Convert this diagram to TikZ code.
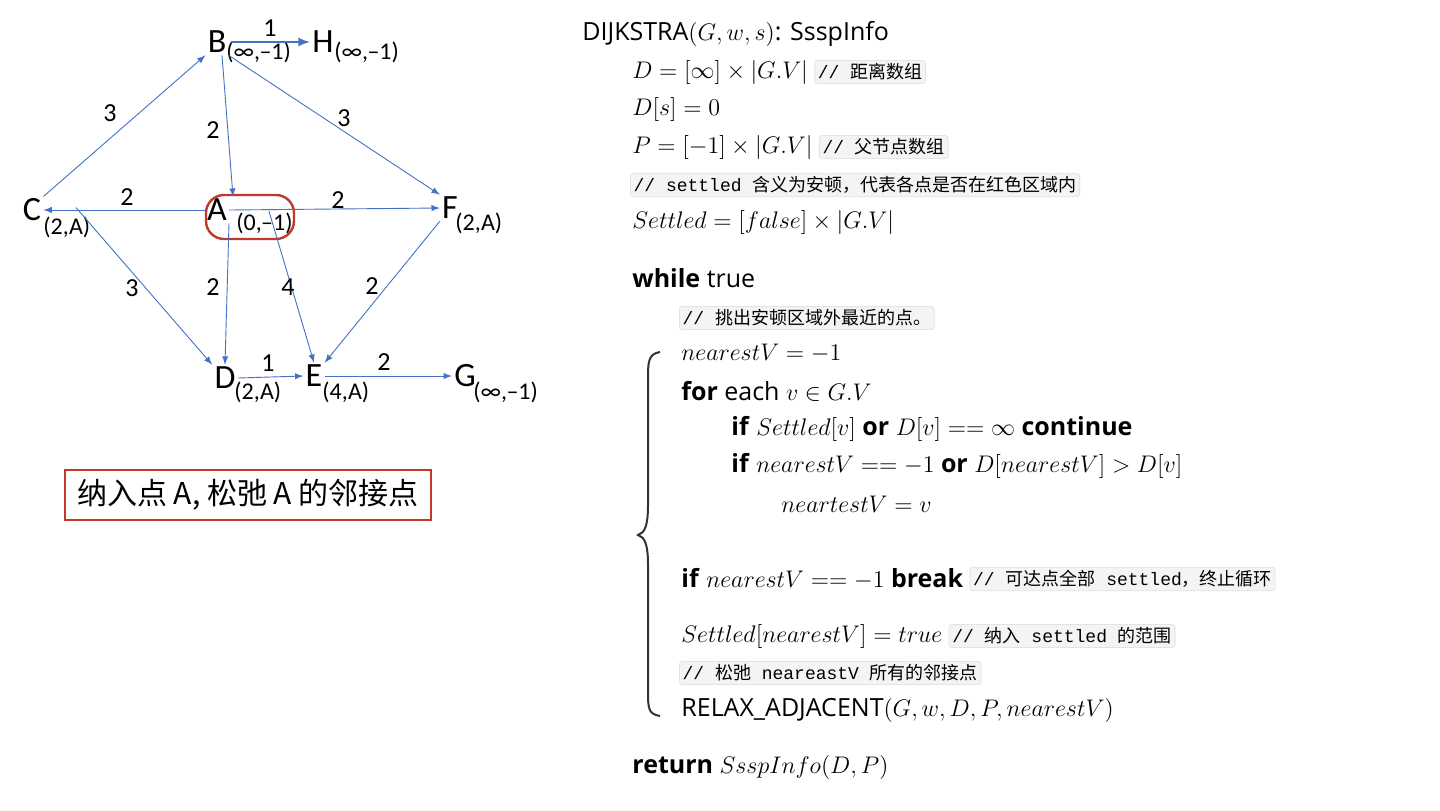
\documentclass[tikz,border=0pt]{standalone}
\usepackage{fontspec}
\setmainfont{Open Sans}
\setmonofont{Liberation Mono}
\newfontfamily\cjk{Noto Sans CJK SC}
\newfontfamily\gfont{Carlito}
\usetikzlibrary{positioning}
\definecolor{eblue}{HTML}{4472C4}
\definecolor{ered}{HTML}{C0392B}
\tikzset{
  lt/.style={font=\gfont\fontsize{17}{18}\selectfont, inner sep=1pt},
  sub/.style={font=\gfont\fontsize{12}{13}\selectfont, inner sep=0pt, anchor=north west},
  wt/.style={font=\gfont\fontsize{13}{14}\selectfont, inner sep=0pt},
  ed/.style={-latex, draw=eblue, line width=0.45pt},
  code/.style={anchor=west, inner sep=0pt, font=\fontsize{12.5}{14}\selectfont},
  cmt/.style={anchor=west, fill=gray!9, draw=gray!22, rounded corners=1.5pt, inner sep=1.6pt, font=\ttfamily\fontsize{9}{11}\selectfont},
}
\begin{document}
\begin{tikzpicture}[x=0.5pt,y=-0.5pt]
\path[use as bounding box, fill=white] (0,0) rectangle (1440,810);
% graph nodes
\node[lt] (B) at (217,42) {B};
\node[lt] (H) at (323,42) {H};
\node[lt] (C) at (32,210) {C};
\node[lt] (A) at (217,210) {A};
\node[lt] (F) at (450,208) {F};
\node[lt] (D) at (225,378) {D};
\node[lt] (E) at (314,376) {E};
\node[lt] (G) at (465,376) {G};
\node[sub] (Bs) at (226,42) {(∞,–1)};
\node[sub] (Hs) at (334,42) {(∞,–1)};
\node[sub] (Cs) at (43,217) {(2,A)};
\node[sub] (As) at (236,213) {(0,–1)};
\node[sub] (Fs) at (455,213) {(2,A)};
\node[sub] (Ds) at (234,382) {(2,A)};
\node[sub] (Es) at (322,382) {(4,A)};
\node[sub] (Gs) at (473,382) {(∞,–1)};
\node[draw=ered, line width=1.2pt, rounded corners=9pt, minimum width=44pt, minimum height=22pt, inner sep=0pt] (Abox) at (250,217) {};
% edges
\draw[ed] (C.north east) -- (B.south west);
\draw[ed, line width=1pt] (B.east) ++(2,0) coordinate (b0) (b0) -- (H.west);
\draw[ed] (B.south) ++(5,0) coordinate (b1) (b1) -- ([xshift=8]A.north);
\draw[ed] (B.south east) -- (F.north west);
\draw[ed] (A.west) -- (C.east);
\draw[ed] (A.east) -- (F.west);
\draw[ed] ([xshift=6]A.south) -- ([xshift=0]D.north);
\draw[ed] ([xshift=26,yshift=6]A.south) -- (E.north);
\draw[ed] ([xshift=22,yshift=8]C.south) -- (D.north west);
\draw[ed] (F.south west) -- (E.north east);
\draw[ed] (D.east) -- (E.west);
\draw[ed] (E.east) -- (G.west);
% weights
\node[wt] (w1) at (110,113) {3};
\node[wt] (w2) at (270,28) {1};
\node[wt] (w3) at (213,130) {2};
\node[wt] (w4) at (344,118) {3};
\node[wt] (w5) at (127,197) {2};
\node[wt] (w6) at (338,200) {2};
\node[wt] (w7) at (132,288) {3};
\node[wt] (w8) at (213,287) {2};
\node[wt] (w9) at (288,287) {4};
\node[wt] (w10) at (372,286) {2};
\node[wt] (w11) at (268,363) {1};
\node[wt] (w12) at (384,362) {2};
% caption box
\node[draw=ered, line width=0.6pt, minimum width=183pt, minimum height=25pt, inner sep=0pt, font=\cjk\fontsize{15}{17}\selectfont] (cap) at (248,495) {纳入点 A, 松弛 A 的邻接点};
% code
\node[code] (l0) at (582,34) {DIJKSTRA$(G,w,s)$: SsspInfo};
\node[code] (l1) at (632,72) {$D=[\infty]\times|G.V|$};
\node[cmt, right=3pt of l1] (c1) {// {\cjk 距离数组}};
\node[code] (l2) at (632,109) {$D[s]=0$};
\node[code] (l3) at (632,147) {$P=[-1]\times|G.V|$};
\node[cmt, right=3pt of l3] (c3) {// {\cjk 父节点数组}};
\node[cmt] (c4) at (630,185) {// settled {\cjk 含义为安顿，代表各点是否在红色区域内}};
\node[code] (l5) at (632,222) {$Settled=[false]\times|G.V|$};
\node[code] (l6) at (632,278) {\textbf{while} true};
\node[cmt] (c7) at (679,318) {// {\cjk 挑出安顿区域外最近的点。}};
\node[code] (l8) at (681,353) {$nearestV=-1$};
\node[code] (l9) at (681,391) {\textbf{for} each $v\in G.V$};
\node[code] (l10) at (731,429) {\textbf{if} $Settled[v]$ \textbf{or} $D[v]==\infty$ \textbf{continue}};
\node[code] (l11) at (731,466) {\textbf{if} $nearestV==-1$ \textbf{or} $D[nearestV]>D[v]$};
\node[code] (l12) at (781,504) {$neartestV=v$};
\node[code] (l13) at (681,579) {\textbf{if} $nearestV==-1$ \textbf{break}};
\node[cmt, right=3pt of l13] (c13) {// {\cjk 可达点全部} settled{\cjk ，终止循环}};
\node[code] (l14) at (681,636) {$Settled[nearestV]=true$};
\node[cmt, right=3pt of l14] (c14) {// {\cjk 纳入} settled {\cjk 的范围}};
\node[cmt] (c15) at (679,673) {// {\cjk 松弛} neareastV {\cjk 所有的邻接点}};
\node[code] (l16) at (681,710) {RELAX\_ADJACENT$(G,w,D,P,nearestV)$};
\node[code] (l17) at (632,767) {\textbf{return} $SsspInfo(D,P)$};
% brace
\draw[line width=1pt, draw=black!80] (660,352) .. controls (648,354) and (648,362) .. (648,380) -- (648,505) .. controls (648,525) and (645,533) .. (638,535) .. controls (645,537) and (648,545) .. (648,565) -- (648,690) .. controls (648,708) and (648,714) .. (660,716);
\end{tikzpicture}
\end{document}
